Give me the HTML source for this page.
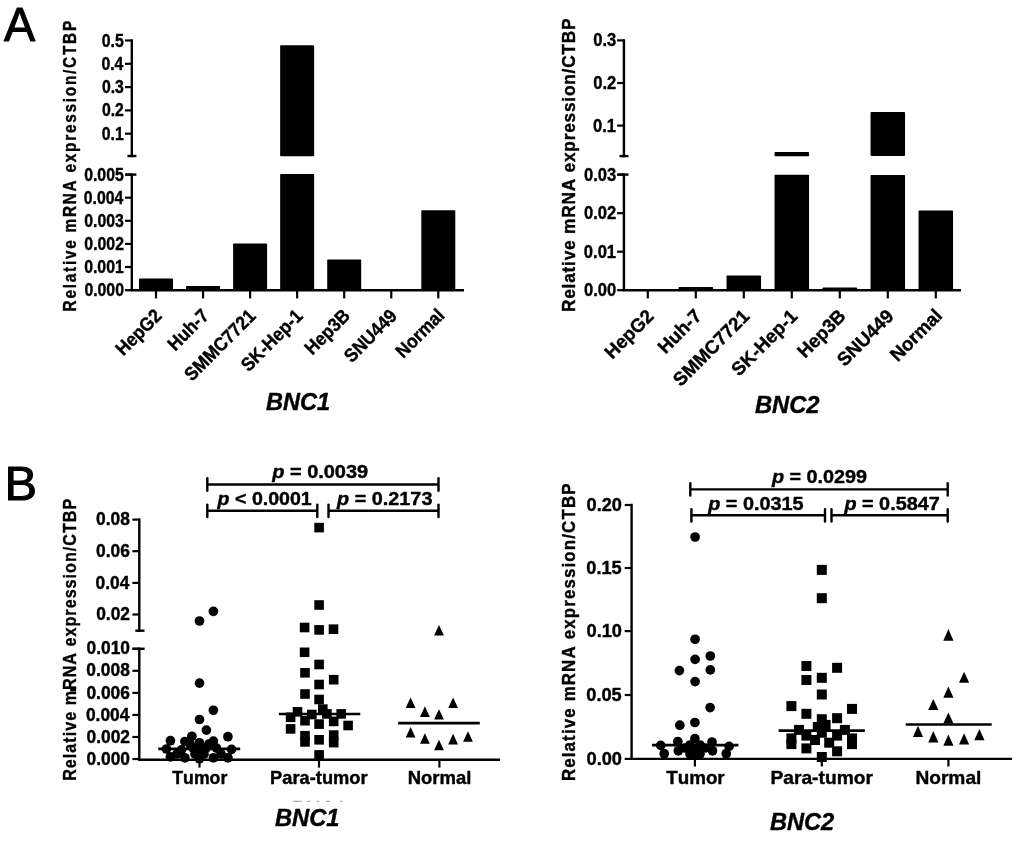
<!DOCTYPE html>
<html><head><meta charset="utf-8"><title>BNC1 BNC2 expression</title>
<style>
html,body{margin:0;padding:0;background:#fff;}
body{width:1024px;height:841px;overflow:hidden;}
svg{display:block;}
text{font-family:"Liberation Sans",Arial,sans-serif;font-kerning:none;stroke:#000;stroke-width:0.4px;stroke-linejoin:round;}
.pl{stroke-width:1.0px;}
.yt{stroke-width:0.4px;}
</style></head><body>
<svg width="1024" height="841" viewBox="0 0 1024 841">
<rect width="1024" height="841" fill="#fff"/>
<text x="4.01" y="41.10" font-size="47.80" font-weight="normal" font-style="normal" textLength="31.24" lengthAdjust="spacingAndGlyphs" fill="#000" class="pl">A</text>
<text x="4.60" y="499.50" font-size="47.40" font-weight="normal" font-style="normal" textLength="32.56" lengthAdjust="spacingAndGlyphs" fill="#000" class="pl">B</text>
<g transform="translate(75.90,310.40) rotate(-90) scale(0.800,1)"><text x="-1.28" y="0" font-size="19.19" font-weight="bold" font-style="normal" textLength="363.19" lengthAdjust="spacing" class="yt">Relative mRNA expression/CTBP</text></g>
<g transform="translate(575.00,310.90) rotate(-90) scale(0.900,1)"><text x="-1.28" y="0" font-size="19.19" font-weight="bold" font-style="normal" textLength="326.27" lengthAdjust="spacing" class="yt">Relative mRNA expression/CTBP</text></g>
<g transform="translate(76.20,779.70) rotate(-90) scale(0.880,1)"><text x="-1.23" y="0" font-size="18.31" font-weight="bold" font-style="normal" textLength="320.49" lengthAdjust="spacing" class="yt">Relative mRNA expression/CTBP</text></g>
<g transform="translate(574.60,780.00) rotate(-90) scale(0.920,1)"><text x="-1.23" y="0" font-size="18.31" font-weight="bold" font-style="normal" textLength="323.48" lengthAdjust="spacing" class="yt">Relative mRNA expression/CTBP</text></g>
<line x1="131.8" y1="39.3" x2="131.8" y2="157.2" stroke="#000" stroke-width="2.4" stroke-linecap="butt"/>
<line x1="127.4" y1="156.0" x2="136.4" y2="156.0" stroke="#000" stroke-width="2.4" stroke-linecap="butt"/>
<line x1="131.8" y1="173.4" x2="131.8" y2="290.2" stroke="#000" stroke-width="2.4" stroke-linecap="butt"/>
<line x1="125.30000000000001" y1="174.6" x2="136.4" y2="174.6" stroke="#000" stroke-width="2.4" stroke-linecap="butt"/>
<line x1="125.00000000000001" y1="40.5" x2="131.8" y2="40.5" stroke="#000" stroke-width="2.2" stroke-linecap="butt"/>
<line x1="125.00000000000001" y1="63.8" x2="131.8" y2="63.8" stroke="#000" stroke-width="2.2" stroke-linecap="butt"/>
<line x1="125.00000000000001" y1="87.1" x2="131.8" y2="87.1" stroke="#000" stroke-width="2.2" stroke-linecap="butt"/>
<line x1="125.00000000000001" y1="110.4" x2="131.8" y2="110.4" stroke="#000" stroke-width="2.2" stroke-linecap="butt"/>
<line x1="125.00000000000001" y1="133.7" x2="131.8" y2="133.7" stroke="#000" stroke-width="2.2" stroke-linecap="butt"/>
<line x1="125.00000000000001" y1="174.6" x2="131.8" y2="174.6" stroke="#000" stroke-width="2.2" stroke-linecap="butt"/>
<line x1="125.00000000000001" y1="197.7" x2="131.8" y2="197.7" stroke="#000" stroke-width="2.2" stroke-linecap="butt"/>
<line x1="125.00000000000001" y1="220.8" x2="131.8" y2="220.8" stroke="#000" stroke-width="2.2" stroke-linecap="butt"/>
<line x1="125.00000000000001" y1="243.9" x2="131.8" y2="243.9" stroke="#000" stroke-width="2.2" stroke-linecap="butt"/>
<line x1="125.00000000000001" y1="267.0" x2="131.8" y2="267.0" stroke="#000" stroke-width="2.2" stroke-linecap="butt"/>
<line x1="125.00000000000001" y1="290.2" x2="131.8" y2="290.2" stroke="#000" stroke-width="2.2" stroke-linecap="butt"/>
<line x1="130.60000000000002" y1="290.2" x2="464.0" y2="290.2" stroke="#000" stroke-width="2.4" stroke-linecap="butt"/>
<line x1="156.0" y1="290.2" x2="156.0" y2="298.4" stroke="#000" stroke-width="2.2" stroke-linecap="butt"/>
<line x1="203.05" y1="290.2" x2="203.05" y2="298.4" stroke="#000" stroke-width="2.2" stroke-linecap="butt"/>
<line x1="250.1" y1="290.2" x2="250.1" y2="298.4" stroke="#000" stroke-width="2.2" stroke-linecap="butt"/>
<line x1="297.15" y1="290.2" x2="297.15" y2="298.4" stroke="#000" stroke-width="2.2" stroke-linecap="butt"/>
<line x1="344.2" y1="290.2" x2="344.2" y2="298.4" stroke="#000" stroke-width="2.2" stroke-linecap="butt"/>
<line x1="391.25" y1="290.2" x2="391.25" y2="298.4" stroke="#000" stroke-width="2.2" stroke-linecap="butt"/>
<line x1="438.29999999999995" y1="290.2" x2="438.29999999999995" y2="298.4" stroke="#000" stroke-width="2.2" stroke-linecap="butt"/>
<rect x="139.00" y="278.60" width="34.00" height="11.60" rx="0.8" fill="#000"/>
<rect x="186.05" y="286.10" width="34.00" height="4.10" rx="0.8" fill="#000"/>
<rect x="233.10" y="243.50" width="34.00" height="46.70" rx="0.8" fill="#000"/>
<rect x="280.15" y="45.20" width="34.00" height="111.00" rx="0.8" fill="#000"/>
<rect x="280.15" y="174.10" width="34.00" height="116.10" rx="0.8" fill="#000"/>
<rect x="327.20" y="259.50" width="34.00" height="30.70" rx="0.8" fill="#000"/>
<rect x="421.30" y="210.30" width="34.00" height="79.90" rx="0.8" fill="#000"/>
<text x="101.76" y="46.50" font-size="18.60" font-weight="bold" font-style="normal" textLength="21.98" lengthAdjust="spacingAndGlyphs" fill="#000">0.5</text>
<text x="101.41" y="69.80" font-size="18.60" font-weight="bold" font-style="normal" textLength="21.98" lengthAdjust="spacingAndGlyphs" fill="#000">0.4</text>
<text x="101.89" y="93.10" font-size="18.60" font-weight="bold" font-style="normal" textLength="21.98" lengthAdjust="spacingAndGlyphs" fill="#000">0.3</text>
<text x="101.95" y="116.40" font-size="18.60" font-weight="bold" font-style="normal" textLength="21.98" lengthAdjust="spacingAndGlyphs" fill="#000">0.2</text>
<text x="101.76" y="139.70" font-size="18.60" font-weight="bold" font-style="normal" textLength="21.98" lengthAdjust="spacingAndGlyphs" fill="#000">0.1</text>
<text x="84.18" y="180.60" font-size="18.60" font-weight="bold" font-style="normal" textLength="39.56" lengthAdjust="spacingAndGlyphs" fill="#000">0.005</text>
<text x="83.82" y="203.70" font-size="18.60" font-weight="bold" font-style="normal" textLength="39.56" lengthAdjust="spacingAndGlyphs" fill="#000">0.004</text>
<text x="84.31" y="226.80" font-size="18.60" font-weight="bold" font-style="normal" textLength="39.56" lengthAdjust="spacingAndGlyphs" fill="#000">0.003</text>
<text x="84.37" y="249.90" font-size="18.60" font-weight="bold" font-style="normal" textLength="39.56" lengthAdjust="spacingAndGlyphs" fill="#000">0.002</text>
<text x="84.18" y="273.00" font-size="18.60" font-weight="bold" font-style="normal" textLength="39.56" lengthAdjust="spacingAndGlyphs" fill="#000">0.001</text>
<text x="84.38" y="296.20" font-size="18.60" font-weight="bold" font-style="normal" textLength="39.56" lengthAdjust="spacingAndGlyphs" fill="#000">0.000</text>
<g transform="translate(162.40,317.50) rotate(-45)"><text x="-55.28" y="0.00" font-size="19.00" font-weight="bold" font-style="normal" textLength="55.97" lengthAdjust="spacingAndGlyphs" fill="#000">HepG2</text></g>
<g transform="translate(209.45,317.50) rotate(-45)"><text x="-48.43" y="0.00" font-size="19.00" font-weight="bold" font-style="normal" textLength="49.20" lengthAdjust="spacingAndGlyphs" fill="#000">Huh-7</text></g>
<g transform="translate(256.50,317.50) rotate(-45)"><text x="-91.21" y="0.00" font-size="19.00" font-weight="bold" font-style="normal" textLength="91.69" lengthAdjust="spacingAndGlyphs" fill="#000">SMMC7721</text></g>
<g transform="translate(303.55,317.50) rotate(-45)"><text x="-77.67" y="0.00" font-size="19.00" font-weight="bold" font-style="normal" textLength="78.16" lengthAdjust="spacingAndGlyphs" fill="#000">SK-Hep-1</text></g>
<g transform="translate(350.60,317.50) rotate(-45)"><text x="-54.22" y="0.00" font-size="19.00" font-weight="bold" font-style="normal" textLength="55.01" lengthAdjust="spacingAndGlyphs" fill="#000">Hep3B</text></g>
<g transform="translate(397.65,317.50) rotate(-45)"><text x="-65.00" y="0.00" font-size="19.00" font-weight="bold" font-style="normal" textLength="65.64" lengthAdjust="spacingAndGlyphs" fill="#000">SNU449</text></g>
<g transform="translate(444.70,317.50) rotate(-45)"><text x="-58.60" y="0.00" font-size="19.00" font-weight="bold" font-style="normal" textLength="59.83" lengthAdjust="spacingAndGlyphs" fill="#000">Normal</text></g>
<line x1="623.9" y1="39.199999999999996" x2="623.9" y2="157.29999999999998" stroke="#000" stroke-width="2.4" stroke-linecap="butt"/>
<line x1="619.5" y1="156.1" x2="628.5" y2="156.1" stroke="#000" stroke-width="2.4" stroke-linecap="butt"/>
<line x1="623.9" y1="173.4" x2="623.9" y2="290.2" stroke="#000" stroke-width="2.4" stroke-linecap="butt"/>
<line x1="617.4" y1="174.6" x2="628.5" y2="174.6" stroke="#000" stroke-width="2.4" stroke-linecap="butt"/>
<line x1="617.1" y1="40.4" x2="623.9" y2="40.4" stroke="#000" stroke-width="2.2" stroke-linecap="butt"/>
<line x1="617.1" y1="83.0" x2="623.9" y2="83.0" stroke="#000" stroke-width="2.2" stroke-linecap="butt"/>
<line x1="617.1" y1="125.6" x2="623.9" y2="125.6" stroke="#000" stroke-width="2.2" stroke-linecap="butt"/>
<line x1="617.1" y1="174.6" x2="623.9" y2="174.6" stroke="#000" stroke-width="2.2" stroke-linecap="butt"/>
<line x1="617.1" y1="213.2" x2="623.9" y2="213.2" stroke="#000" stroke-width="2.2" stroke-linecap="butt"/>
<line x1="617.1" y1="251.7" x2="623.9" y2="251.7" stroke="#000" stroke-width="2.2" stroke-linecap="butt"/>
<line x1="617.1" y1="290.2" x2="623.9" y2="290.2" stroke="#000" stroke-width="2.2" stroke-linecap="butt"/>
<line x1="622.6999999999999" y1="290.2" x2="961.0" y2="290.2" stroke="#000" stroke-width="2.4" stroke-linecap="butt"/>
<line x1="647.8" y1="290.2" x2="647.8" y2="298.4" stroke="#000" stroke-width="2.2" stroke-linecap="butt"/>
<line x1="695.8" y1="290.2" x2="695.8" y2="298.4" stroke="#000" stroke-width="2.2" stroke-linecap="butt"/>
<line x1="743.8" y1="290.2" x2="743.8" y2="298.4" stroke="#000" stroke-width="2.2" stroke-linecap="butt"/>
<line x1="791.8" y1="290.2" x2="791.8" y2="298.4" stroke="#000" stroke-width="2.2" stroke-linecap="butt"/>
<line x1="839.8" y1="290.2" x2="839.8" y2="298.4" stroke="#000" stroke-width="2.2" stroke-linecap="butt"/>
<line x1="887.8" y1="290.2" x2="887.8" y2="298.4" stroke="#000" stroke-width="2.2" stroke-linecap="butt"/>
<line x1="935.8" y1="290.2" x2="935.8" y2="298.4" stroke="#000" stroke-width="2.2" stroke-linecap="butt"/>
<rect x="678.55" y="287.00" width="34.50" height="3.20" rx="0.8" fill="#000"/>
<rect x="726.55" y="275.50" width="34.50" height="14.70" rx="0.8" fill="#000"/>
<rect x="774.55" y="152.00" width="34.50" height="4.30" rx="0.8" fill="#000"/>
<rect x="774.55" y="174.80" width="34.50" height="115.40" rx="0.8" fill="#000"/>
<rect x="822.55" y="287.40" width="34.50" height="2.80" rx="0.8" fill="#000"/>
<rect x="870.55" y="111.90" width="34.50" height="44.00" rx="0.8" fill="#000"/>
<rect x="870.55" y="174.90" width="34.50" height="115.30" rx="0.8" fill="#000"/>
<rect x="918.55" y="210.60" width="34.50" height="79.60" rx="0.8" fill="#000"/>
<text x="593.18" y="46.40" font-size="18.40" font-weight="bold" font-style="normal" textLength="23.02" lengthAdjust="spacingAndGlyphs" fill="#000">0.3</text>
<text x="593.24" y="89.00" font-size="18.40" font-weight="bold" font-style="normal" textLength="23.02" lengthAdjust="spacingAndGlyphs" fill="#000">0.2</text>
<text x="593.04" y="131.60" font-size="18.40" font-weight="bold" font-style="normal" textLength="23.02" lengthAdjust="spacingAndGlyphs" fill="#000">0.1</text>
<text x="583.97" y="180.60" font-size="18.40" font-weight="bold" font-style="normal" textLength="32.23" lengthAdjust="spacingAndGlyphs" fill="#000">0.03</text>
<text x="584.03" y="219.20" font-size="18.40" font-weight="bold" font-style="normal" textLength="32.23" lengthAdjust="spacingAndGlyphs" fill="#000">0.02</text>
<text x="583.83" y="257.70" font-size="18.40" font-weight="bold" font-style="normal" textLength="32.23" lengthAdjust="spacingAndGlyphs" fill="#000">0.01</text>
<text x="584.05" y="296.20" font-size="18.40" font-weight="bold" font-style="normal" textLength="32.23" lengthAdjust="spacingAndGlyphs" fill="#000">0.00</text>
<g transform="translate(654.30,317.80) rotate(-45)"><text x="-59.57" y="0.00" font-size="19.00" font-weight="bold" font-style="normal" textLength="60.32" lengthAdjust="spacingAndGlyphs" fill="#000">HepG2</text></g>
<g transform="translate(702.30,317.80) rotate(-45)"><text x="-52.20" y="0.00" font-size="19.00" font-weight="bold" font-style="normal" textLength="53.02" lengthAdjust="spacingAndGlyphs" fill="#000">Huh-7</text></g>
<g transform="translate(750.30,317.80) rotate(-45)"><text x="-98.29" y="0.00" font-size="19.00" font-weight="bold" font-style="normal" textLength="98.81" lengthAdjust="spacingAndGlyphs" fill="#000">SMMC7721</text></g>
<g transform="translate(798.30,317.80) rotate(-45)"><text x="-83.71" y="0.00" font-size="19.00" font-weight="bold" font-style="normal" textLength="84.23" lengthAdjust="spacingAndGlyphs" fill="#000">SK-Hep-1</text></g>
<g transform="translate(846.30,317.80) rotate(-45)"><text x="-58.43" y="0.00" font-size="19.00" font-weight="bold" font-style="normal" textLength="59.28" lengthAdjust="spacingAndGlyphs" fill="#000">Hep3B</text></g>
<g transform="translate(894.30,317.80) rotate(-45)"><text x="-70.04" y="0.00" font-size="19.00" font-weight="bold" font-style="normal" textLength="70.74" lengthAdjust="spacingAndGlyphs" fill="#000">SNU449</text></g>
<g transform="translate(942.30,317.80) rotate(-45)"><text x="-63.15" y="0.00" font-size="19.00" font-weight="bold" font-style="normal" textLength="64.48" lengthAdjust="spacingAndGlyphs" fill="#000">Normal</text></g>
<text x="265.99" y="409.67" font-size="23.59" font-weight="bold" font-style="italic" textLength="64.08" lengthAdjust="spacingAndGlyphs" fill="#000">BNC1</text>
<text x="754.98" y="413.07" font-size="24.01" font-weight="bold" font-style="italic" textLength="64.56" lengthAdjust="spacingAndGlyphs" fill="#000">BNC2</text>
<line x1="139.3" y1="518.4" x2="139.3" y2="631.9000000000001" stroke="#000" stroke-width="2.4" stroke-linecap="butt"/>
<line x1="135.3" y1="630.7" x2="144.5" y2="630.7" stroke="#000" stroke-width="2.4" stroke-linecap="butt"/>
<line x1="139.3" y1="647.5999999999999" x2="139.3" y2="759.8" stroke="#000" stroke-width="2.4" stroke-linecap="butt"/>
<line x1="132.4" y1="648.8" x2="144.60000000000002" y2="648.8" stroke="#000" stroke-width="2.4" stroke-linecap="butt"/>
<line x1="132.4" y1="519.6" x2="139.3" y2="519.6" stroke="#000" stroke-width="2.2" stroke-linecap="butt"/>
<text x="96.03" y="525.25" font-size="18.00" font-weight="bold" font-style="normal" textLength="33.81" lengthAdjust="spacingAndGlyphs" fill="#000">0.08</text>
<line x1="132.4" y1="551.2" x2="139.3" y2="551.2" stroke="#000" stroke-width="2.2" stroke-linecap="butt"/>
<text x="96.12" y="556.85" font-size="18.00" font-weight="bold" font-style="normal" textLength="33.81" lengthAdjust="spacingAndGlyphs" fill="#000">0.06</text>
<line x1="132.4" y1="582.9" x2="139.3" y2="582.9" stroke="#000" stroke-width="2.2" stroke-linecap="butt"/>
<text x="95.59" y="588.55" font-size="18.00" font-weight="bold" font-style="normal" textLength="33.81" lengthAdjust="spacingAndGlyphs" fill="#000">0.04</text>
<line x1="132.4" y1="614.5" x2="139.3" y2="614.5" stroke="#000" stroke-width="2.2" stroke-linecap="butt"/>
<text x="96.19" y="620.15" font-size="18.00" font-weight="bold" font-style="normal" textLength="33.81" lengthAdjust="spacingAndGlyphs" fill="#000">0.02</text>
<line x1="132.4" y1="648.8" x2="139.3" y2="648.8" stroke="#000" stroke-width="2.2" stroke-linecap="butt"/>
<text x="86.55" y="654.45" font-size="18.00" font-weight="bold" font-style="normal" textLength="43.47" lengthAdjust="spacingAndGlyphs" fill="#000">0.010</text>
<line x1="132.4" y1="670.8" x2="139.3" y2="670.8" stroke="#000" stroke-width="2.2" stroke-linecap="butt"/>
<text x="86.37" y="676.45" font-size="18.00" font-weight="bold" font-style="normal" textLength="43.47" lengthAdjust="spacingAndGlyphs" fill="#000">0.008</text>
<line x1="132.4" y1="692.9" x2="139.3" y2="692.9" stroke="#000" stroke-width="2.2" stroke-linecap="butt"/>
<text x="86.46" y="698.55" font-size="18.00" font-weight="bold" font-style="normal" textLength="43.47" lengthAdjust="spacingAndGlyphs" fill="#000">0.006</text>
<line x1="132.4" y1="714.9" x2="139.3" y2="714.9" stroke="#000" stroke-width="2.2" stroke-linecap="butt"/>
<text x="85.93" y="720.55" font-size="18.00" font-weight="bold" font-style="normal" textLength="43.47" lengthAdjust="spacingAndGlyphs" fill="#000">0.004</text>
<line x1="132.4" y1="737.0" x2="139.3" y2="737.0" stroke="#000" stroke-width="2.2" stroke-linecap="butt"/>
<text x="86.53" y="742.65" font-size="18.00" font-weight="bold" font-style="normal" textLength="43.47" lengthAdjust="spacingAndGlyphs" fill="#000">0.002</text>
<line x1="132.4" y1="759.0" x2="139.3" y2="759.0" stroke="#000" stroke-width="2.2" stroke-linecap="butt"/>
<text x="86.55" y="764.65" font-size="18.00" font-weight="bold" font-style="normal" textLength="43.47" lengthAdjust="spacingAndGlyphs" fill="#000">0.000</text>
<line x1="138.10000000000002" y1="759.8" x2="500.0" y2="759.8" stroke="#000" stroke-width="2.4" stroke-linecap="butt"/>
<line x1="199.5" y1="759.8" x2="199.5" y2="767.6" stroke="#000" stroke-width="2.2" stroke-linecap="butt"/>
<line x1="319.0" y1="759.8" x2="319.0" y2="767.6" stroke="#000" stroke-width="2.2" stroke-linecap="butt"/>
<line x1="439.4" y1="759.8" x2="439.4" y2="767.6" stroke="#000" stroke-width="2.2" stroke-linecap="butt"/>
<text x="172.30" y="784.00" font-size="18.31" font-weight="bold" font-style="normal" textLength="54.97" lengthAdjust="spacingAndGlyphs" fill="#000">Tumor</text>
<text x="270.08" y="784.00" font-size="18.31" font-weight="bold" font-style="normal" textLength="97.50" lengthAdjust="spacingAndGlyphs" fill="#000">Para-tumor</text>
<text x="407.66" y="784.00" font-size="18.31" font-weight="bold" font-style="normal" textLength="63.64" lengthAdjust="spacingAndGlyphs" fill="#000">Normal</text>
<line x1="207.3" y1="484.5" x2="438.5" y2="484.5" stroke="#000" stroke-width="2.4" stroke-linecap="butt"/><line x1="207.3" y1="478.3" x2="207.3" y2="490.7" stroke="#000" stroke-width="2.4" stroke-linecap="round"/><line x1="438.5" y1="478.3" x2="438.5" y2="490.7" stroke="#000" stroke-width="2.4" stroke-linecap="round"/>
<line x1="207.3" y1="510.8" x2="317.3" y2="510.8" stroke="#000" stroke-width="2.4" stroke-linecap="butt"/><line x1="207.3" y1="504.6" x2="207.3" y2="517.0" stroke="#000" stroke-width="2.4" stroke-linecap="round"/><line x1="317.3" y1="504.6" x2="317.3" y2="517.0" stroke="#000" stroke-width="2.4" stroke-linecap="round"/>
<line x1="328.5" y1="510.8" x2="438.5" y2="510.8" stroke="#000" stroke-width="2.4" stroke-linecap="butt"/><line x1="328.5" y1="504.6" x2="328.5" y2="517.0" stroke="#000" stroke-width="2.4" stroke-linecap="round"/><line x1="438.5" y1="504.6" x2="438.5" y2="517.0" stroke="#000" stroke-width="2.4" stroke-linecap="round"/>
<text x="272.24" y="477.90" font-size="18.60" font-weight="bold" font-style="italic" textLength="12.18" lengthAdjust="spacingAndGlyphs" xml:space="preserve">p</text><text x="284.42" y="477.90" font-size="18.60" font-weight="bold" font-style="normal" textLength="83.72" lengthAdjust="spacingAndGlyphs" xml:space="preserve"> = 0.0039</text>
<text x="217.63" y="505.10" font-size="18.60" font-weight="bold" font-style="italic" textLength="11.95" lengthAdjust="spacingAndGlyphs" xml:space="preserve">p</text><text x="229.58" y="505.10" font-size="18.60" font-weight="bold" font-style="normal" textLength="82.16" lengthAdjust="spacingAndGlyphs" xml:space="preserve"> &lt; 0.0001</text>
<text x="337.14" y="504.90" font-size="18.60" font-weight="bold" font-style="italic" textLength="12.10" lengthAdjust="spacingAndGlyphs" xml:space="preserve">p</text><text x="349.24" y="504.90" font-size="18.60" font-weight="bold" font-style="normal" textLength="83.18" lengthAdjust="spacingAndGlyphs" xml:space="preserve"> = 0.2173</text>
<text x="274.98" y="825.87" font-size="23.73" font-weight="bold" font-style="italic" textLength="64.59" lengthAdjust="spacingAndGlyphs" fill="#000">BNC1</text>
<line x1="293.2" y1="801.3" x2="301.8" y2="801.3" stroke="#999" stroke-width="1"/>
<line x1="307.4" y1="801.3" x2="310.0" y2="801.3" stroke="#999" stroke-width="1"/>
<line x1="316.2" y1="801.3" x2="319.1" y2="801.3" stroke="#999" stroke-width="1"/>
<line x1="325.9" y1="801.3" x2="330.1" y2="801.3" stroke="#999" stroke-width="1"/>
<line x1="339.9" y1="801.3" x2="342.5" y2="801.3" stroke="#999" stroke-width="1"/>
<g fill="#000">
<circle cx="213.4" cy="611.4" r="4.85"/>
<circle cx="199.5" cy="621.0" r="4.85"/>
<circle cx="199.5" cy="683.1" r="4.85"/>
<circle cx="213.4" cy="710.3" r="4.85"/>
<circle cx="199.5" cy="719.5" r="4.85"/>
<circle cx="206.4" cy="730.1" r="4.85"/>
<circle cx="191.9" cy="736.3" r="4.85"/>
<circle cx="170.4" cy="740.7" r="4.85"/>
<circle cx="184.9" cy="741.5" r="4.85"/>
<circle cx="199.4" cy="742.8" r="4.85"/>
<circle cx="213.4" cy="741.1" r="4.85"/>
<circle cx="227.9" cy="736.7" r="4.85"/>
<circle cx="166.4" cy="749.0" r="4.85"/>
<circle cx="181.4" cy="749.9" r="4.85"/>
<circle cx="231.5" cy="749.4" r="4.85"/>
<circle cx="216.5" cy="748.1" r="4.85"/>
<circle cx="170.4" cy="756.9" r="4.85"/>
<circle cx="184.9" cy="757.8" r="4.85"/>
<circle cx="199.4" cy="758.7" r="4.85"/>
<circle cx="213.4" cy="757.8" r="4.85"/>
<circle cx="227.9" cy="757.8" r="4.85"/>
<circle cx="193.0" cy="748.0" r="4.85"/>
<circle cx="199.4" cy="750.0" r="4.85"/>
<circle cx="206.0" cy="748.0" r="4.85"/>
<circle cx="195.0" cy="754.0" r="4.85"/>
<circle cx="204.0" cy="754.0" r="4.85"/>
<circle cx="177.0" cy="754.0" r="4.85"/>
<circle cx="221.0" cy="754.0" r="4.85"/>
<circle cx="190.0" cy="744.0" r="4.85"/>
<circle cx="209.0" cy="744.0" r="4.85"/>
<rect x="314.3" y="522.8" width="9.6" height="9.6"/>
<rect x="314.3" y="600.2" width="9.6" height="9.6"/>
<rect x="299.8" y="622.7" width="9.6" height="9.6"/>
<rect x="314.3" y="625.1" width="9.6" height="9.6"/>
<rect x="328.7" y="624.4" width="9.6" height="9.6"/>
<rect x="299.8" y="647.5" width="9.6" height="9.6"/>
<rect x="314.3" y="659.7" width="9.6" height="9.6"/>
<rect x="300.2" y="668.0" width="9.6" height="9.6"/>
<rect x="328.9" y="674.9" width="9.6" height="9.6"/>
<rect x="314.3" y="679.7" width="9.6" height="9.6"/>
<rect x="300.2" y="689.2" width="9.6" height="9.6"/>
<rect x="314.3" y="694.7" width="9.6" height="9.6"/>
<rect x="292.7" y="707.0" width="9.6" height="9.6"/>
<rect x="318.0" y="704.3" width="9.6" height="9.6"/>
<rect x="285.8" y="712.5" width="9.6" height="9.6"/>
<rect x="307.0" y="709.7" width="9.6" height="9.6"/>
<rect x="322.1" y="709.1" width="9.6" height="9.6"/>
<rect x="336.4" y="709.1" width="9.6" height="9.6"/>
<rect x="300.2" y="715.9" width="9.6" height="9.6"/>
<rect x="314.3" y="719.3" width="9.6" height="9.6"/>
<rect x="328.9" y="716.6" width="9.6" height="9.6"/>
<rect x="343.3" y="720.7" width="9.6" height="9.6"/>
<rect x="285.8" y="724.1" width="9.6" height="9.6"/>
<rect x="300.2" y="730.9" width="9.6" height="9.6"/>
<rect x="300.2" y="737.1" width="9.6" height="9.6"/>
<rect x="314.3" y="735.0" width="9.6" height="9.6"/>
<rect x="328.9" y="730.3" width="9.6" height="9.6"/>
<rect x="328.9" y="737.8" width="9.6" height="9.6"/>
<rect x="314.3" y="750.1" width="9.6" height="9.6"/>
<polygon points="439.0,625.0 434.1,635.5 443.9,635.5"/>
<polygon points="410.6,697.5 405.7,707.9 415.5,707.9"/>
<polygon points="453.1,697.5 448.2,707.9 458.0,707.9"/>
<polygon points="424.9,706.3 420.0,716.9 429.8,716.9"/>
<polygon points="439.0,709.3 434.1,719.6 443.9,719.6"/>
<polygon points="410.6,726.9 405.7,737.4 415.5,737.4"/>
<polygon points="424.9,733.3 420.0,743.7 429.8,743.7"/>
<polygon points="453.1,733.8 448.2,744.4 458.0,744.4"/>
<polygon points="468.0,731.3 463.1,741.8 472.9,741.8"/>
<polygon points="439.0,739.7 434.1,750.2 443.9,750.2"/>
</g>
<line x1="158.3" y1="748.9" x2="240.2" y2="748.9" stroke="#000" stroke-width="2.6" stroke-linecap="butt"/>
<line x1="278.9" y1="714.0" x2="360.3" y2="714.0" stroke="#000" stroke-width="2.6" stroke-linecap="butt"/>
<line x1="398.2" y1="723.1" x2="479.8" y2="723.1" stroke="#000" stroke-width="2.6" stroke-linecap="butt"/>
<rect x="70.20" y="687.40" width="5.90" height="4.10" rx="0" fill="#000"/>
<line x1="631.6" y1="503.8" x2="631.6" y2="758.9" stroke="#000" stroke-width="2.4" stroke-linecap="butt"/>
<line x1="624.7" y1="505.0" x2="631.6" y2="505.0" stroke="#000" stroke-width="2.2" stroke-linecap="butt"/>
<text x="586.52" y="510.90" font-size="18.20" font-weight="bold" font-style="normal" textLength="35.42" lengthAdjust="spacingAndGlyphs" fill="#000">0.20</text>
<line x1="624.7" y1="568.0" x2="631.6" y2="568.0" stroke="#000" stroke-width="2.2" stroke-linecap="butt"/>
<text x="586.28" y="573.90" font-size="18.20" font-weight="bold" font-style="normal" textLength="35.42" lengthAdjust="spacingAndGlyphs" fill="#000">0.15</text>
<line x1="624.7" y1="631.1" x2="631.6" y2="631.1" stroke="#000" stroke-width="2.2" stroke-linecap="butt"/>
<text x="586.52" y="637.00" font-size="18.20" font-weight="bold" font-style="normal" textLength="35.42" lengthAdjust="spacingAndGlyphs" fill="#000">0.10</text>
<line x1="624.7" y1="695.0" x2="631.6" y2="695.0" stroke="#000" stroke-width="2.2" stroke-linecap="butt"/>
<text x="586.28" y="700.90" font-size="18.20" font-weight="bold" font-style="normal" textLength="35.42" lengthAdjust="spacingAndGlyphs" fill="#000">0.05</text>
<line x1="624.7" y1="758.9" x2="631.6" y2="758.9" stroke="#000" stroke-width="2.2" stroke-linecap="butt"/>
<text x="586.52" y="764.80" font-size="18.20" font-weight="bold" font-style="normal" textLength="35.42" lengthAdjust="spacingAndGlyphs" fill="#000">0.00</text>
<line x1="630.4" y1="758.9" x2="1012.0" y2="758.9" stroke="#000" stroke-width="2.4" stroke-linecap="butt"/>
<line x1="694.9" y1="758.9" x2="694.9" y2="766.5" stroke="#000" stroke-width="2.2" stroke-linecap="butt"/>
<line x1="821.8" y1="758.9" x2="821.8" y2="766.5" stroke="#000" stroke-width="2.2" stroke-linecap="butt"/>
<line x1="948.4" y1="758.9" x2="948.4" y2="766.5" stroke="#000" stroke-width="2.2" stroke-linecap="butt"/>
<text x="666.19" y="784.00" font-size="18.60" font-weight="bold" font-style="normal" textLength="58.50" lengthAdjust="spacingAndGlyphs" fill="#000">Tumor</text>
<text x="770.41" y="784.00" font-size="18.60" font-weight="bold" font-style="normal" textLength="102.58" lengthAdjust="spacingAndGlyphs" fill="#000">Para-tumor</text>
<text x="915.42" y="784.00" font-size="18.60" font-weight="bold" font-style="normal" textLength="65.94" lengthAdjust="spacingAndGlyphs" fill="#000">Normal</text>
<line x1="690.3" y1="489.4" x2="947.7" y2="489.4" stroke="#000" stroke-width="2.4" stroke-linecap="butt"/><line x1="690.3" y1="483.2" x2="690.3" y2="495.59999999999997" stroke="#000" stroke-width="2.4" stroke-linecap="round"/><line x1="947.7" y1="483.2" x2="947.7" y2="495.59999999999997" stroke="#000" stroke-width="2.4" stroke-linecap="round"/>
<line x1="691.4" y1="515.3" x2="825.0" y2="515.3" stroke="#000" stroke-width="2.4" stroke-linecap="butt"/><line x1="691.4" y1="509.09999999999997" x2="691.4" y2="521.4999999999999" stroke="#000" stroke-width="2.4" stroke-linecap="round"/><line x1="825.0" y1="509.09999999999997" x2="825.0" y2="521.4999999999999" stroke="#000" stroke-width="2.4" stroke-linecap="round"/>
<line x1="831.5" y1="515.3" x2="947.7" y2="515.3" stroke="#000" stroke-width="2.4" stroke-linecap="butt"/><line x1="831.5" y1="509.09999999999997" x2="831.5" y2="521.4999999999999" stroke="#000" stroke-width="2.4" stroke-linecap="round"/><line x1="947.7" y1="509.09999999999997" x2="947.7" y2="521.4999999999999" stroke="#000" stroke-width="2.4" stroke-linecap="round"/>
<text x="771.93" y="482.80" font-size="18.60" font-weight="bold" font-style="italic" textLength="12.09" lengthAdjust="spacingAndGlyphs" xml:space="preserve">p</text><text x="784.03" y="482.80" font-size="18.60" font-weight="bold" font-style="normal" textLength="83.11" lengthAdjust="spacingAndGlyphs" xml:space="preserve"> = 0.0299</text>
<text x="708.24" y="509.50" font-size="18.60" font-weight="bold" font-style="italic" textLength="12.11" lengthAdjust="spacingAndGlyphs" xml:space="preserve">p</text><text x="720.34" y="509.50" font-size="18.60" font-weight="bold" font-style="normal" textLength="83.21" lengthAdjust="spacingAndGlyphs" xml:space="preserve"> = 0.0315</text>
<text x="844.44" y="509.50" font-size="18.60" font-weight="bold" font-style="italic" textLength="12.11" lengthAdjust="spacingAndGlyphs" xml:space="preserve">p</text><text x="856.54" y="509.50" font-size="18.60" font-weight="bold" font-style="normal" textLength="83.23" lengthAdjust="spacingAndGlyphs" xml:space="preserve"> = 0.5847</text>
<text x="769.99" y="829.67" font-size="24.01" font-weight="bold" font-style="italic" textLength="64.26" lengthAdjust="spacingAndGlyphs" fill="#000">BNC2</text>
<g fill="#000">
<circle cx="695.1" cy="537.0" r="4.85"/>
<circle cx="695.1" cy="639.3" r="4.85"/>
<circle cx="695.1" cy="659.4" r="4.85"/>
<circle cx="710.3" cy="656.0" r="4.85"/>
<circle cx="679.4" cy="670.6" r="4.85"/>
<circle cx="710.3" cy="669.9" r="4.85"/>
<circle cx="695.1" cy="681.6" r="4.85"/>
<circle cx="710.1" cy="707.6" r="4.85"/>
<circle cx="679.8" cy="725.2" r="4.85"/>
<circle cx="694.9" cy="722.5" r="4.85"/>
<circle cx="694.9" cy="738.6" r="4.85"/>
<circle cx="677.8" cy="741.5" r="4.85"/>
<circle cx="712.0" cy="742.0" r="4.85"/>
<circle cx="660.7" cy="745.4" r="4.85"/>
<circle cx="729.1" cy="746.4" r="4.85"/>
<circle cx="664.2" cy="753.7" r="4.85"/>
<circle cx="726.2" cy="753.7" r="4.85"/>
<circle cx="678.3" cy="750.8" r="4.85"/>
<circle cx="712.5" cy="750.8" r="4.85"/>
<circle cx="690.0" cy="745.0" r="4.85"/>
<circle cx="700.0" cy="745.0" r="4.85"/>
<circle cx="695.0" cy="750.0" r="4.85"/>
<circle cx="690.0" cy="754.0" r="4.85"/>
<circle cx="700.0" cy="754.0" r="4.85"/>
<circle cx="695.0" cy="755.0" r="4.85"/>
<circle cx="685.0" cy="748.0" r="4.85"/>
<circle cx="705.0" cy="748.0" r="4.85"/>
<rect x="816.8" y="564.9" width="10.0" height="10.0"/>
<rect x="816.8" y="593.2" width="10.0" height="10.0"/>
<rect x="801.4" y="661.0" width="10.0" height="10.0"/>
<rect x="832.1" y="662.8" width="10.0" height="10.0"/>
<rect x="801.4" y="675.0" width="10.0" height="10.0"/>
<rect x="816.8" y="672.8" width="10.0" height="10.0"/>
<rect x="816.8" y="689.5" width="10.0" height="10.0"/>
<rect x="786.4" y="701.1" width="10.0" height="10.0"/>
<rect x="847.0" y="703.9" width="10.0" height="10.0"/>
<rect x="801.4" y="708.8" width="10.0" height="10.0"/>
<rect x="832.1" y="713.2" width="10.0" height="10.0"/>
<rect x="816.8" y="714.2" width="10.0" height="10.0"/>
<rect x="812.8" y="722.0" width="10.0" height="10.0"/>
<rect x="820.6" y="719.9" width="10.0" height="10.0"/>
<rect x="794.0" y="724.9" width="10.0" height="10.0"/>
<rect x="839.9" y="724.9" width="10.0" height="10.0"/>
<rect x="786.4" y="733.4" width="10.0" height="10.0"/>
<rect x="786.4" y="739.1" width="10.0" height="10.0"/>
<rect x="847.0" y="733.4" width="10.0" height="10.0"/>
<rect x="847.0" y="739.1" width="10.0" height="10.0"/>
<rect x="801.4" y="730.6" width="10.0" height="10.0"/>
<rect x="832.1" y="730.6" width="10.0" height="10.0"/>
<rect x="801.4" y="743.4" width="10.0" height="10.0"/>
<rect x="832.1" y="746.3" width="10.0" height="10.0"/>
<rect x="810.0" y="735.0" width="10.0" height="10.0"/>
<rect x="824.2" y="737.7" width="10.0" height="10.0"/>
<rect x="816.8" y="727.7" width="10.0" height="10.0"/>
<rect x="816.8" y="752.0" width="10.0" height="10.0"/>
<polygon points="948.4,628.9 943.3,640.7 953.5,640.7"/>
<polygon points="964.1,671.8 959.0,682.7 969.2,682.7"/>
<polygon points="948.4,686.6 943.3,697.8 953.5,697.8"/>
<polygon points="933.3,698.9 928.2,710.1 938.4,710.1"/>
<polygon points="948.4,712.4 943.3,723.6 953.5,723.6"/>
<polygon points="918.0,725.8 912.9,737.0 923.1,737.0"/>
<polygon points="933.3,731.1 928.2,742.4 938.4,742.4"/>
<polygon points="948.4,734.5 943.3,745.7 953.5,745.7"/>
<polygon points="964.1,733.2 959.0,744.4 969.2,744.4"/>
<polygon points="979.4,728.9 974.3,740.2 984.5,740.2"/>
</g>
<line x1="652.1" y1="745.1" x2="738.4" y2="745.1" stroke="#000" stroke-width="2.6" stroke-linecap="butt"/>
<line x1="778.6" y1="730.6" x2="864.9" y2="730.6" stroke="#000" stroke-width="2.6" stroke-linecap="butt"/>
<line x1="905.7" y1="724.5" x2="991.7" y2="724.5" stroke="#000" stroke-width="2.6" stroke-linecap="butt"/>
</svg>
</body></html>
